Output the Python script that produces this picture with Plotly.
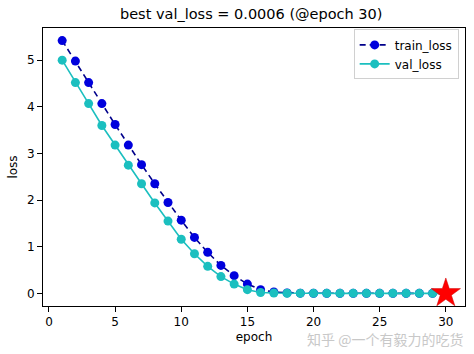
import plotly.graph_objects as go

epochs = list(range(1, 31))
train_loss = [5.42, 4.98, 4.52, 4.07, 3.62, 3.18, 2.76, 2.35, 1.95, 1.57,
              1.20, 0.88, 0.60, 0.38, 0.20, 0.08, 0.03, 0.01, 0.005, 0.003,
              0.002, 0.002, 0.001, 0.001, 0.001, 0.001, 0.001, 0.001, 0.001, 0.001]
val_loss = [5.00, 4.52, 4.07, 3.60, 3.18, 2.75, 2.35, 1.94, 1.55, 1.16,
            0.85, 0.58, 0.36, 0.20, 0.08, 0.02, 0.008, 0.004, 0.003, 0.002,
            0.002, 0.001, 0.001, 0.001, 0.001, 0.001, 0.001, 0.001, 0.001, 0.0006]
best_epoch = 30
best_val = 0.0006
x_ticks = [0, 5, 10, 15, 20, 25, 30]
y_ticks = [0, 1, 2, 3, 4, 5]

FONT = "DejaVu Sans"

fig = go.Figure()
fig.add_trace(go.Scatter(
    x=epochs, y=train_loss, mode="lines+markers", name="train_loss",
    line=dict(color="#00008B", width=1.6, dash="6px,4px"),
    marker=dict(color="#0000DD", size=9),
))
fig.add_trace(go.Scatter(
    x=epochs, y=val_loss, mode="lines+markers", name="val_loss",
    line=dict(color="#1BBFBF", width=1.6),
    marker=dict(color="#1BBFBF", size=9),
))
fig.add_trace(go.Scatter(
    x=[best_epoch], y=[best_val], mode="markers", showlegend=False,
    marker=dict(symbol="star", color="#FF0000", size=22,
                line=dict(color="#CC0000", width=0.5)),
))

axis_common = dict(
    showline=True, linecolor="black", linewidth=1, mirror=True,
    ticks="outside", ticklen=5, tickcolor="black", tickwidth=1,
    showgrid=False, zeroline=False,
    tickfont=dict(family=FONT, size=12, color="black"),
)
fig.update_xaxes(range=[-0.45, 31.45], tickvals=x_ticks,
                 title=dict(text="epoch", font=dict(family=FONT, size=12, color="black"), standoff=4),
                 **axis_common)
fig.update_yaxes(range=[-0.27, 5.69], tickvals=y_ticks,
                 title=dict(text="loss", font=dict(family=FONT, size=12, color="black"), standoff=6),
                 **axis_common)

fig.update_layout(
    width=474, height=354,
    margin=dict(l=43, r=9, t=28, b=48),
    paper_bgcolor="white", plot_bgcolor="white",
    title=dict(text="best val_loss = 0.0006 (@epoch 30)", x=0.53, xanchor="center",
               y=0.96, yanchor="middle",
               font=dict(family=FONT, size=14.5, color="black")),
    legend=dict(x=0.985, y=0.995, xanchor="right", yanchor="top",
                bgcolor="rgba(255,255,255,0.8)", bordercolor="#D0D0D0", borderwidth=1,
                font=dict(family=FONT, size=12, color="black"),
                itemwidth=30, tracegroupgap=0),
    showlegend=True,
)
fig.add_annotation(
    text="知乎 @一个有毅力的吃货", xref="paper", yref="paper",
    x=1.0, y=-0.075, xanchor="right", yanchor="top", showarrow=False,
    font=dict(family="Noto Sans CJK SC", size=14, color="#C8C8C8"),
)

fig.write_html("out.html")
